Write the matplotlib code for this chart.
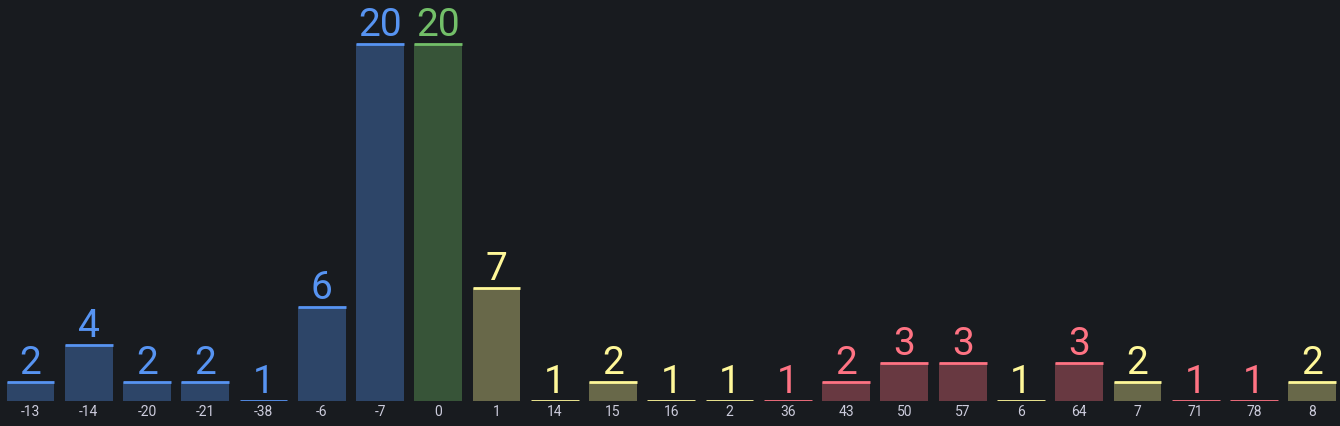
import matplotlib
matplotlib.use("Agg")
import matplotlib.pyplot as plt

plt.rcParams['font.family'] = ['Roboto', 'DejaVu Sans']

# values
labels = ["-13", "-14", "-20", "-21", "-38", "-6", "-7", "0", "1", "14", "15", "16",
          "2", "36", "43", "50", "57", "6", "64", "7", "71", "78", "8"]
counts = [2, 4, 2, 2, 1, 6, 20, 20, 7, 1, 2, 1, 1, 1, 2, 3, 3, 1, 3, 2, 1, 1, 2]

bg = "#181b1f"
blue = "#5794F2"
green = "#73BF69"
yellow = "#FFF899"
red = "#FF7383"


def pick_color(lbl):
    v = int(lbl)
    if v < 0:
        return blue
    if v == 0:
        return green
    if v < 30:
        return yellow
    return red


fig = plt.figure(figsize=(13.4, 4.26), dpi=100, facecolor=bg)
ax = fig.add_axes([0.001, 0.0587, 1.0, 0.9413])
ax.set_facecolor(bg)

x = list(range(len(labels)))
w = 0.82
base = 1
for i, (lbl, c) in enumerate(zip(labels, counts)):
    col = pick_color(lbl)
    ax.bar(i, c - base, bottom=base, width=w, color=col, alpha=0.35, linewidth=0)
    ax.hlines(c, i - w / 2, i + w / 2, colors=col, linewidth=2)
    ax.annotate(str(c), (i, c), xytext=(0, 0), textcoords="offset points",
                ha="center", va="bottom", color=col, fontsize=28)

ax.set_xlim(-0.5, len(labels) - 0.5)
# baseline at y=401 px, 20 at y=44 px
ax.set_ylim(base, 22.35)
ax.set_xticks(x)
ax.set_xticklabels(labels, color="#ccccdc", fontsize=10)
ax.tick_params(axis="x", length=0, pad=3)
ax.set_yticks([])
for s in ax.spines.values():
    s.set_visible(False)

fig.savefig("out.png", dpi=100, facecolor=bg)
